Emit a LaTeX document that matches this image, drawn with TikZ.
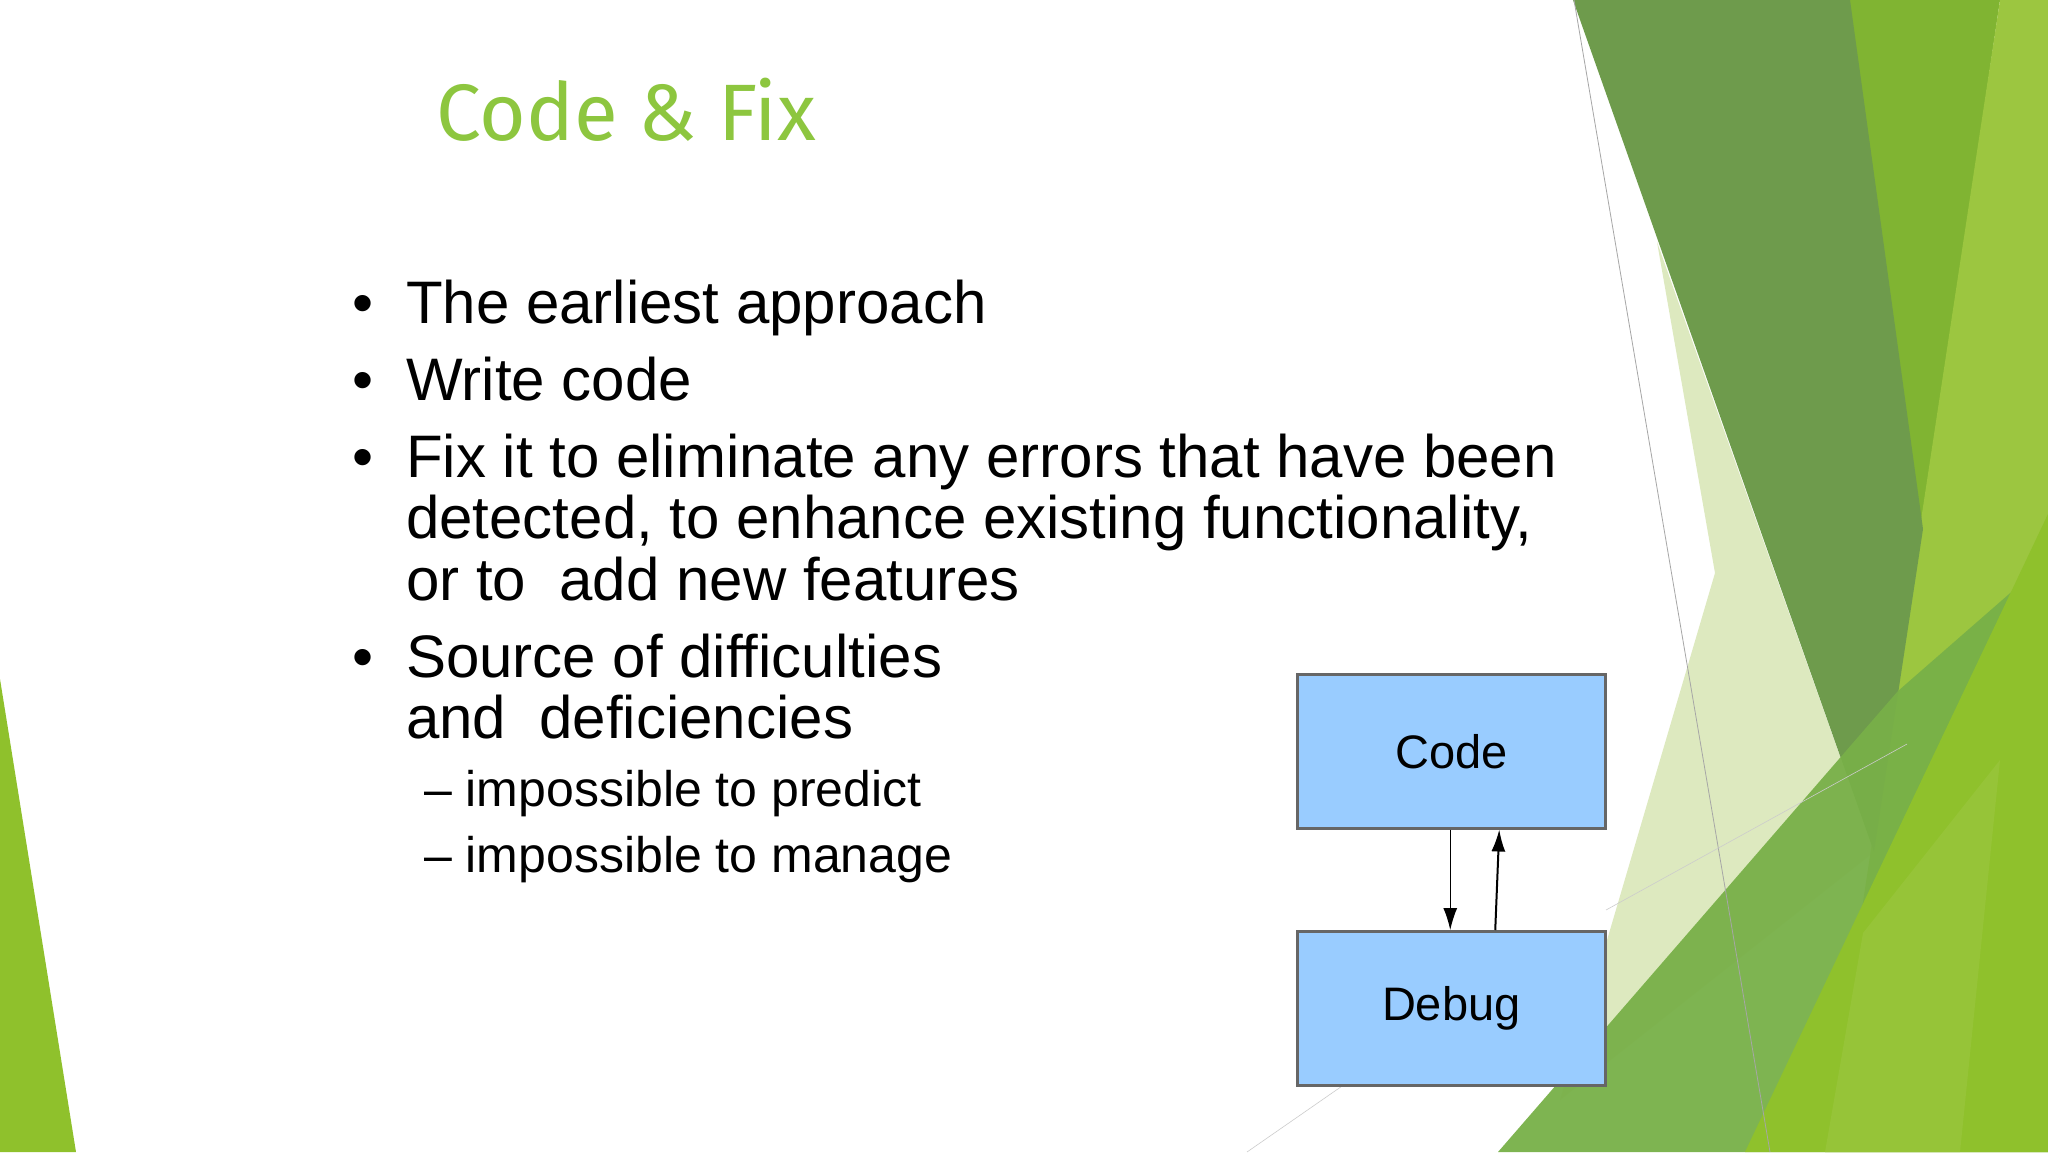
\documentclass[tikz,border=0pt]{standalone}
\usepackage{fontspec}
\usetikzlibrary{arrows.meta}
\setmainfont{Liberation Sans}
\newfontfamily\titlefont{Fira Sans}
\begin{document}
\begin{tikzpicture}[x=1pt,y=-1pt,
  bul/.style={anchor=base west,inner sep=0pt,font=\fontsize{60}{60}\selectfont},
  sub/.style={anchor=base west,inner sep=0pt,font=\fontsize{50}{50}\selectfont},
  box/.style={draw=black!60,line width=2.5pt,fill=boxblue,minimum width=308pt,minimum height=154pt,anchor=north west,font=\fontsize{47}{47}\selectfont},
  arr/.style={-{Latex[length=22pt,width=14pt]},line width=2pt}]
\definecolor{boxblue}{HTML}{99CCFF}
\definecolor{olive}{HTML}{6E9B4C}
\definecolor{medg}{HTML}{80B432}
\definecolor{lightg}{HTML}{9CC640}
\definecolor{brightg}{HTML}{8FC12C}
\definecolor{bandg}{HTML}{78B048}
\definecolor{paleg}{HTML}{DDE9BF}
\definecolor{titleg}{HTML}{8DC63F}
\useasboundingbox (0,0) rectangle (2048,1152);
\fill[white] (0,0) rectangle (2048,1152);
% decorations
\fill[paleg] (1657,242) -- (1874,852) -- (1560,1100) -- (1715,573) -- cycle;
\fill[medg] (1835,0) -- (2000,0) -- (1863,933) -- (1874,852) -- cycle;
\fill[lightg] (2000,0) -- (2048,0) -- (2048,1152) -- (1825,1152) -- cycle;
\fill[olive] (1573,0) -- (1850,0) -- (1923,529) -- (1874,852) -- cycle;
\fill[bandg,opacity=0.95] (1498,1152) -- (1898,691) -- (2048,560) -- (2048,1152) -- cycle;
\fill[brightg] (1745,1152) -- (2048,514) -- (2048,1152) -- cycle;
\fill[lightg,opacity=0.6] (1825,1152) -- (1863,933) -- (2000,760) -- (1960,1152) -- cycle;
\fill[brightg] (0,679) -- (76,1152) -- (0,1152) -- cycle;
\draw[gray!70,line width=0.8pt] (1574,0) -- (1770,1152);
\draw[gray!40,line width=0.6pt] (1606,910) -- (1907,744);
\draw[gray!40,line width=0.6pt] (1247,1152) -- (1345,1084);
% title
\node[anchor=base west,inner sep=0pt,text=titleg,font=\titlefont\fontsize{80}{80}\selectfont] (title) at (436,140) {Code \& Fix};
% bullets
\node[bul] (b1) at (352,323) {•}; \node[bul] (t1) at (406,323) {The earliest approach};
\node[bul] (b2) at (352,400) {•}; \node[bul] (t2) at (406,400) {Write code};
\node[bul] (b3) at (352,477) {•}; \node[bul] (t3) at (406,477) {Fix it to eliminate any errors that have been};
\node[bul] (t3b) at (406,538) {detected, to enhance existing functionality,};
\node[bul] (t3c) at (406,600) {or to\ \ add new features};
\node[bul] (b4) at (352,677) {•}; \node[bul] (t4) at (406,677) {Source of difficulties};
\node[bul] (t4b) at (406,738) {and\ \ deficiencies};
\node[sub] (s1) at (424,806) {– impossible to predict};
\node[sub] (s2) at (424,872) {– impossible to manage};
% diagram
\node[box] (code) at (1296,673) {Code};
\node[box] (debug) at (1296,930) {Debug};
\draw[arr,line width=1.2pt] (code.south) ++(-1pt,0) coordinate (c1) -- (c1 |- debug.north);
\coordinate (d1) at ([xshift=44pt]debug.north);
\coordinate (c2) at ([xshift=48pt]code.south);
\draw[arr] (d1) -- (c2);
\end{tikzpicture}
\end{document}
